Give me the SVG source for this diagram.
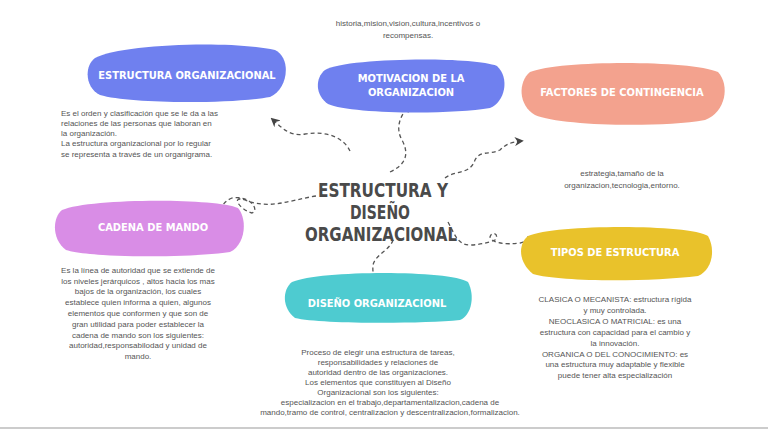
<svg xmlns="http://www.w3.org/2000/svg" width="768" height="433" viewBox="0 0 768 433">
<style>
.lbl{font-family:"DejaVu Sans Condensed","DejaVu Sans",sans-serif;font-weight:bold;font-size:11px;fill:#fff;text-anchor:middle}
.txt{font-family:"Liberation Sans",sans-serif;font-size:8px;fill:#555;text-anchor:middle}
.ttl{font-family:"DejaVu Sans Condensed","DejaVu Sans",sans-serif;font-weight:bold;font-size:19px;fill:#4a4a4a;text-anchor:middle}
.con{fill:none;stroke:#555;stroke-width:1.3;stroke-dasharray:4 3;marker-end:url(#ah)}
</style>
<defs><marker id="ah" viewBox="0 0 10 10" refX="8" refY="5" markerWidth="7" markerHeight="7" orient="auto"><path d="M0,0 L10,5 L0,10 L3,5Z" fill="#444"/></marker></defs>
<rect width="768" height="433" fill="#fff"/>
<line x1="0" y1="428" x2="768" y2="428" stroke="#999" stroke-width="1"/>
<g id="connectors">
<path class="con" d="M350,151 C345,140 330,130 305,134 C290,137 282,128 272,119"/>
<path class="con" d="M390,172 C405,165 410,155 402,140 C395,128 400,115 410,105"/>
<path class="con" d="M445,178 C455,170 470,175 475,160 C480,150 490,155 500,150 C505,145 510,142 522,141"/>
<path class="con" d="M316,196 C290,200 270,210 245,200 C230,195 240,210 252,213 C260,210 250,195 232,198 C222,202 220,210 215,220"/>
<path class="con" d="M393,240 C390,250 375,255 373,265 C372,275 376,282 378,292"/>
<path class="con" d="M448,222 C455,235 458,245 470,245 C480,245 490,242 495,240 C500,235 492,230 490,237 C492,243 505,245 520,243 C527,241 530,240 535,238"/>
</g>
<g id="n-estructura"><path d="M95,58 C120,44 230,40 275,50 C292,58 288,90 270,97 C230,104 130,104 100,95 C85,88 84,66 95,58Z" fill="#6f80ef"/><text class="lbl" x="187" y="79">ESTRUCTURA ORGANIZACIONAL</text></g>
<g id="n-motivacion"><path d="M325,70 C345,58 470,56 497,66 C510,78 505,102 490,108 C450,115 350,114 328,104 C315,95 315,78 325,70Z" fill="#6f80ef"/><text class="lbl" x="411" y="82">MOTIVACION DE LA</text><text class="lbl" x="411" y="96">ORGANIZACION</text></g>
<g id="n-factores"><path d="M530,72 C560,60 690,60 718,72 C730,85 726,112 705,120 C660,128 560,126 535,115 C518,105 518,82 530,72Z" fill="#f3a28e"/><text class="lbl" x="622" y="96">FACTORES DE CONTINGENCIA</text></g>
<g id="n-cadena"><path d="M62,210 C90,198 215,198 238,208 C248,220 245,245 230,252 C190,258 90,258 66,250 C52,240 52,218 62,210Z" fill="#d98de6"/><text class="lbl" x="153" y="231">CADENA DE MANDO</text></g>
<g id="n-diseno"><path d="M292,282 C320,270 450,270 468,282 C475,295 472,315 460,320 C420,324 320,324 295,318 C282,308 282,290 292,282Z" fill="#4ecbd0"/><text class="lbl" x="377" y="307">DISEÑO ORGANIZACIONL</text></g>
<g id="n-tipos"><path d="M528,236 C555,224 690,224 708,236 C716,250 712,270 698,276 C650,282 560,282 533,274 C518,262 518,244 528,236Z" fill="#e9c22b"/><text class="lbl" x="615" y="256">TIPOS DE ESTRUCTURA</text></g>
<g id="n-titulo"><text class="ttl" x="383" y="197" textLength="130" lengthAdjust="spacingAndGlyphs">ESTRUCTURA Y</text><text class="ttl" x="380" y="219" textLength="60" lengthAdjust="spacingAndGlyphs">DISEÑO</text><text class="ttl" x="381" y="241" textLength="152" lengthAdjust="spacingAndGlyphs">ORGANIZACIONAL</text></g>
<g id="textos">
<text class="txt" x="408" y="26">historia,mision,vision,cultura,incentivos o</text>
<text class="txt" x="408" y="38">recompensas.</text>
<g style="text-anchor:start"><text class="txt" style="text-anchor:start" x="61" y="116">Es el orden y clasificación que se le da a las</text>
<text class="txt" style="text-anchor:start" x="61" y="126">relaciones de las personas que laboran en</text>
<text class="txt" style="text-anchor:start" x="61" y="136">la organización.</text>
<text class="txt" style="text-anchor:start" x="61" y="146">La estructura organizacional por lo regular</text>
<text class="txt" style="text-anchor:start" x="61" y="157">se representa a través de un organigrama.</text></g>
<text class="txt" x="622" y="176">estrategia,tamaño de la</text>
<text class="txt" x="622" y="188">organizacion,tecnologia,entorno.</text>
<text class="txt" x="138" y="273">Es la línea de autoridad que se extiende de</text>
<text class="txt" x="138" y="284">los niveles jerárquicos , altos hacia los mas</text>
<text class="txt" x="138" y="294">bajos de la organización, los cuales</text>
<text class="txt" x="138" y="305">establece quien informa a quien, algunos</text>
<text class="txt" x="138" y="316">elementos que conformen y que son de</text>
<text class="txt" x="138" y="327">gran utilidad para poder establecer la</text>
<text class="txt" x="138" y="338">cadena de mando son los siguientes:</text>
<text class="txt" x="138" y="348">autoridad,responsabilodad y unidad de</text>
<text class="txt" x="138" y="359">mando.</text>
<text class="txt" x="378" y="355">Proceso de elegir una estructura de tareas,</text>
<text class="txt" x="378" y="365">responsabilidades y relaciones de</text>
<text class="txt" x="378" y="375">autoridad dentro de las organizaciones.</text>
<text class="txt" x="378" y="385">Los elementos que constituyen al Diseño</text>
<text class="txt" x="378" y="395">Organizacional son los siguientes:</text>
<text class="txt" x="390" y="405">especializacion en el trabajo,departamentalizacion,cadena de</text>
<text class="txt" x="390" y="415">mando,tramo de control, centralizacion y descentralizacion,formalizacion.</text>
<text class="txt" x="615" y="302">CLASICA O MECANISTA: estructura rígida</text>
<text class="txt" x="615" y="313">y muy controlada.</text>
<text class="txt" x="615" y="324">NEOCLASICA O MATRICIAL: es una</text>
<text class="txt" x="615" y="335">estructura con capacidad para el cambio y</text>
<text class="txt" x="615" y="346">la innovación.</text>
<text class="txt" x="615" y="357">ORGANICA O DEL CONOCIMIENTO: es</text>
<text class="txt" x="615" y="367">una estructura muy adaptable y flexible</text>
<text class="txt" x="615" y="378">puede tener alta especialización</text>
</g>
</svg>
